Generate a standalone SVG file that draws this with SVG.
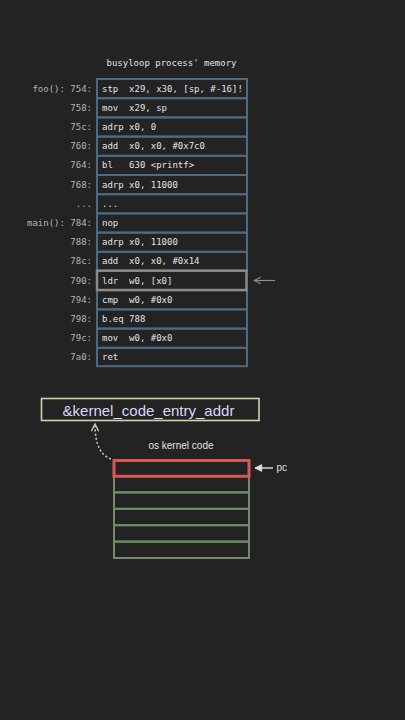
<svg xmlns="http://www.w3.org/2000/svg" width="405" height="720" viewBox="0 0 405 720">
<defs>
<style>
.mono{font-family:"DejaVu Sans Mono","Liberation Mono",monospace;font-size:9px}
.code{fill:#e2e2e2}
.lbl{fill:#b4b4b4;text-anchor:end}
.cell{fill:none;stroke:#4d6a82;stroke-width:2}
.kcell{fill:none;stroke:#6f8c69;stroke-width:2}
.sans{font-family:"Liberation Sans","Arial",sans-serif}
</style>
<marker id="ah" viewBox="0 0 10 10" refX="9" refY="5" markerWidth="7" markerHeight="7" orient="auto">
<path d="M1,1 L9,5 L1,9" fill="none" stroke="#8c8c8c" stroke-width="1.3"/>
</marker>
<marker id="ahw" viewBox="0 0 10 10" refX="9" refY="5" markerWidth="6" markerHeight="6" orient="auto">
<path d="M1,1 L9,5 L1,9 Z" fill="#e0e0e0" stroke="#e0e0e0" stroke-width="1"/>
</marker>
<marker id="ahd" viewBox="0 0 10 10" refX="9" refY="5" markerWidth="6" markerHeight="6" orient="auto">
<path d="M1,1 L9,5 L1,9" fill="none" stroke="#c9c8b0" stroke-width="1.6"/>
</marker>
</defs>
<rect x="0" y="0" width="405" height="720" fill="#232323"/>

<text class="mono code" x="171.5" y="66" text-anchor="middle">busyloop process' memory</text>

<g id="memory">
<g id="r754"><rect class="cell" x="97" y="79" width="150" height="19.2"/><text class="mono lbl" x="92" y="91.5">foo(): 754:</text><text class="mono code" x="102" y="91.5" xml:space="preserve">stp  x29, x30, [sp, #-16]!</text></g>
<g id="r758"><rect class="cell" x="97" y="98.2" width="150" height="19.2"/><text class="mono lbl" x="92" y="110.7">758:</text><text class="mono code" x="102" y="110.7" xml:space="preserve">mov  x29, sp</text></g>
<g id="r75c"><rect class="cell" x="97" y="117.4" width="150" height="19.2"/><text class="mono lbl" x="92" y="129.9">75c:</text><text class="mono code" x="102" y="129.9" xml:space="preserve">adrp x0, 0</text></g>
<g id="r760"><rect class="cell" x="97" y="136.6" width="150" height="19.2"/><text class="mono lbl" x="92" y="149.1">760:</text><text class="mono code" x="102" y="149.1" xml:space="preserve">add  x0, x0, #0x7c0</text></g>
<g id="r764"><rect class="cell" x="97" y="155.8" width="150" height="19.2"/><text class="mono lbl" x="92" y="168.3">764:</text><text class="mono code" x="102" y="168.3" xml:space="preserve">bl   630 &lt;printf&gt;</text></g>
<g id="r768"><rect class="cell" x="97" y="175" width="150" height="19.2"/><text class="mono lbl" x="92" y="187.5">768:</text><text class="mono code" x="102" y="187.5" xml:space="preserve">adrp x0, 11000</text></g>
<g id="rdots"><rect class="cell" x="97" y="194.2" width="150" height="19.2"/><text class="mono lbl" x="92" y="206.7">...</text><text class="mono code" x="102" y="206.7">...</text></g>
<g id="r784"><rect class="cell" x="97" y="213.4" width="150" height="19.2"/><text class="mono lbl" x="92" y="225.9">main(): 784:</text><text class="mono code" x="102" y="225.9">nop</text></g>
<g id="r788"><rect class="cell" x="97" y="232.6" width="150" height="19.2"/><text class="mono lbl" x="92" y="245.1">788:</text><text class="mono code" x="102" y="245.1" xml:space="preserve">adrp x0, 11000</text></g>
<g id="r78c"><rect class="cell" x="97" y="251.8" width="150" height="19.2"/><text class="mono lbl" x="92" y="264.3">78c:</text><text class="mono code" x="102" y="264.3" xml:space="preserve">add  x0, x0, #0x14</text></g>
<g id="r794"><rect class="cell" x="97" y="290.2" width="150" height="19.2"/><text class="mono lbl" x="92" y="302.7">794:</text><text class="mono code" x="102" y="302.7" xml:space="preserve">cmp  w0, #0x0</text></g>
<g id="r798"><rect class="cell" x="97" y="309.4" width="150" height="19.2"/><text class="mono lbl" x="92" y="321.9">798:</text><text class="mono code" x="102" y="321.9" xml:space="preserve">b.eq 788</text></g>
<g id="r79c"><rect class="cell" x="97" y="328.6" width="150" height="19.2"/><text class="mono lbl" x="92" y="341.1">79c:</text><text class="mono code" x="102" y="341.1" xml:space="preserve">mov  w0, #0x0</text></g>
<g id="r7a0"><rect class="cell" x="97" y="347.8" width="150" height="18.4"/><text class="mono lbl" x="92" y="360.3">7a0:</text><text class="mono code" x="102" y="360.3">ret</text></g>
<g id="r790"><rect x="97" y="270.6" width="149.5" height="19.4" fill="none" stroke="#8a8a8a" stroke-width="2.5"/><text class="mono lbl" x="92" y="283.5">790:</text><text class="mono code" x="102" y="283.5" xml:space="preserve">ldr  w0, [x0]</text></g>
</g>

<g id="entry">
<rect x="41.5" y="398.5" width="217.5" height="22" fill="none" stroke="#d3d2ab" stroke-width="1.6"/>
<text class="sans" x="148.5" y="416" font-size="15" fill="#d8d8f4" text-anchor="middle">&amp;kernel_code_entry_addr</text>
</g>

<text class="sans" x="181" y="448.5" font-size="10" fill="#e2e2e2" text-anchor="middle">os kernel code</text>

<g id="kernel">
<rect class="kcell" x="114" y="476" width="135" height="16.4"/>
<rect class="kcell" x="114" y="492.4" width="135" height="16.4"/>
<rect class="kcell" x="114" y="508.8" width="135" height="16.4"/>
<rect class="kcell" x="114" y="525.2" width="135" height="16.4"/>
<rect class="kcell" x="114" y="541.6" width="135" height="16.4"/>
<rect id="pcrow" x="114" y="460.5" width="135" height="15.8" fill="none" stroke="#d95656" stroke-width="3"/>
</g>

<g id="connectors">
<line x1="275" y1="280.5" x2="254" y2="280.5" stroke="#8c8c8c" stroke-width="1.2" marker-end="url(#ah)"/>
<line x1="273" y1="468" x2="255" y2="468" stroke="#e0e0e0" stroke-width="1.4" marker-end="url(#ahw)"/>
<path d="M111,459 C101,455 95,446 95,424" fill="none" stroke="#c9c8b0" stroke-width="1.5" stroke-dasharray="2.2,2" marker-end="url(#ahd)"/>
</g>
<text class="sans" x="276.5" y="470.5" font-size="10" fill="#e2e2e2">pc</text>
</svg>
